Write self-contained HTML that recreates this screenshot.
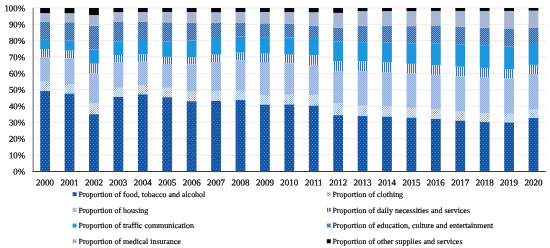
<!DOCTYPE html>
<html><head><meta charset="utf-8"><title>Chart</title>
<style>html,body{margin:0;padding:0;background:#fff;}svg{display:block;}</style>
</head><body>
<svg width="550" height="248" viewBox="0 0 550 248">
<defs>
<pattern id="pFood" width="3" height="4" patternUnits="userSpaceOnUse">
<rect width="3" height="4" fill="#1253A2"/>
<rect x="0" y="0" width="1" height="1" fill="#4A82C6"/>
<rect x="1.5" y="2" width="1" height="1" fill="#4A82C6"/>
</pattern>
<pattern id="pCloth" width="2" height="2" patternUnits="userSpaceOnUse">
<rect width="2" height="2" fill="#DCE8F6"/>
<rect x="0" y="1" width="1" height="1" fill="#84A9DD"/>
<rect x="1" y="0" width="1" height="1" fill="#84A9DD"/>
</pattern>
<pattern id="pHouse" width="2" height="2" patternUnits="userSpaceOnUse">
<rect width="2" height="2" fill="#B3C7E6"/>
<rect x="0" y="0" width="1" height="1" fill="#93AFD9"/>
<rect x="1" y="1" width="1" height="1" fill="#93AFD9"/>
</pattern>
<pattern id="pDaily" width="2" height="2" patternUnits="userSpaceOnUse">
<rect width="2" height="2" fill="#FFFFFF"/>
<rect x="0" y="0" width="1" height="2" fill="#1F5FAF"/>
</pattern>
<pattern id="pEdu" width="2" height="2" patternUnits="userSpaceOnUse">
<rect width="2" height="2" fill="#2B67B2"/>
<rect x="0" y="0" width="1" height="1" fill="#6C9BD4"/>
<rect x="1" y="1" width="1" height="1" fill="#6C9BD4"/>
</pattern>
</defs>
<rect width="550" height="248" fill="#FFFFFF"/>
<line x1="32.9" y1="154.97" x2="545.72" y2="154.97" stroke="#E6E6E6" stroke-width="0.75"/>
<line x1="32.9" y1="138.64" x2="545.72" y2="138.64" stroke="#E6E6E6" stroke-width="0.75"/>
<line x1="32.9" y1="122.31" x2="545.72" y2="122.31" stroke="#E6E6E6" stroke-width="0.75"/>
<line x1="32.9" y1="105.98" x2="545.72" y2="105.98" stroke="#E6E6E6" stroke-width="0.75"/>
<line x1="32.9" y1="89.65" x2="545.72" y2="89.65" stroke="#E6E6E6" stroke-width="0.75"/>
<line x1="32.9" y1="73.32" x2="545.72" y2="73.32" stroke="#E6E6E6" stroke-width="0.75"/>
<line x1="32.9" y1="56.99" x2="545.72" y2="56.99" stroke="#E6E6E6" stroke-width="0.75"/>
<line x1="32.9" y1="40.66" x2="545.72" y2="40.66" stroke="#E6E6E6" stroke-width="0.75"/>
<line x1="32.9" y1="24.33" x2="545.72" y2="24.33" stroke="#E6E6E6" stroke-width="0.75"/>
<line x1="32.9" y1="8.00" x2="545.72" y2="8.00" stroke="#E6E6E6" stroke-width="0.75"/>
<rect x="40.21" y="91.04" width="9.8" height="80.26" fill="url(#pFood)"/>
<rect x="40.21" y="81.72" width="9.8" height="9.32" fill="#FFFFFF"/>
<rect x="40.21" y="57.20" width="9.8" height="24.52" fill="url(#pHouse)"/>
<rect x="40.21" y="49.03" width="9.8" height="8.17" fill="#EEF3FA"/>
<rect x="41.10" y="49.03" width="0.95" height="8.17" fill="#2562B0"/>
<rect x="43.10" y="49.03" width="0.95" height="8.17" fill="#2562B0"/>
<rect x="45.10" y="49.03" width="0.95" height="8.17" fill="#2562B0"/>
<rect x="47.10" y="49.03" width="0.95" height="8.17" fill="#2562B0"/>
<rect x="49.10" y="49.03" width="0.95" height="8.17" fill="#2562B0"/>
<rect x="40.21" y="39.88" width="9.8" height="9.15" fill="#1E96DC"/>
<rect x="40.21" y="21.57" width="9.8" height="18.31" fill="url(#pEdu)"/>
<rect x="40.21" y="13.07" width="9.8" height="8.50" fill="#A7B6D2"/>
<rect x="40.21" y="8.00" width="9.8" height="5.07" fill="#000000"/>
<rect x="64.63" y="93.33" width="9.8" height="77.97" fill="url(#pFood)"/>
<rect x="64.63" y="84.01" width="9.8" height="9.32" fill="#FFFFFF"/>
<rect x="64.63" y="58.18" width="9.8" height="25.83" fill="url(#pHouse)"/>
<rect x="64.63" y="50.66" width="9.8" height="7.52" fill="#EEF3FA"/>
<rect x="65.10" y="50.66" width="0.95" height="7.52" fill="#2562B0"/>
<rect x="67.10" y="50.66" width="0.95" height="7.52" fill="#2562B0"/>
<rect x="69.10" y="50.66" width="0.95" height="7.52" fill="#2562B0"/>
<rect x="71.10" y="50.66" width="0.95" height="7.52" fill="#2562B0"/>
<rect x="73.10" y="50.66" width="0.95" height="7.52" fill="#2562B0"/>
<rect x="64.63" y="40.37" width="9.8" height="10.30" fill="#1E96DC"/>
<rect x="64.63" y="22.22" width="9.8" height="18.14" fill="url(#pEdu)"/>
<rect x="64.63" y="13.23" width="9.8" height="8.99" fill="#A7B6D2"/>
<rect x="64.63" y="8.00" width="9.8" height="5.23" fill="#000000"/>
<rect x="89.05" y="114.15" width="9.8" height="57.16" fill="url(#pFood)"/>
<rect x="89.05" y="103.04" width="9.8" height="11.10" fill="#FFFFFF"/>
<rect x="89.05" y="73.32" width="9.8" height="29.72" fill="url(#pHouse)"/>
<rect x="89.05" y="63.69" width="9.8" height="9.63" fill="#EEF3FA"/>
<rect x="89.10" y="63.69" width="0.95" height="9.63" fill="#2562B0"/>
<rect x="91.10" y="63.69" width="0.95" height="9.63" fill="#2562B0"/>
<rect x="93.10" y="63.69" width="0.95" height="9.63" fill="#2562B0"/>
<rect x="95.10" y="63.69" width="0.95" height="9.63" fill="#2562B0"/>
<rect x="97.10" y="63.69" width="0.95" height="9.63" fill="#2562B0"/>
<rect x="89.05" y="49.48" width="9.8" height="14.21" fill="#1E96DC"/>
<rect x="89.05" y="25.64" width="9.8" height="23.84" fill="url(#pEdu)"/>
<rect x="89.05" y="15.02" width="9.8" height="10.61" fill="#A7B6D2"/>
<rect x="89.05" y="8.00" width="9.8" height="7.02" fill="#000000"/>
<rect x="113.47" y="96.98" width="9.8" height="74.32" fill="url(#pFood)"/>
<rect x="113.47" y="87.69" width="9.8" height="9.29" fill="#FFFFFF"/>
<rect x="113.47" y="62.60" width="9.8" height="25.10" fill="url(#pHouse)"/>
<rect x="113.47" y="54.94" width="9.8" height="7.66" fill="#EEF3FA"/>
<rect x="114.10" y="54.94" width="0.95" height="7.66" fill="#2562B0"/>
<rect x="116.10" y="54.94" width="0.95" height="7.66" fill="#2562B0"/>
<rect x="118.10" y="54.94" width="0.95" height="7.66" fill="#2562B0"/>
<rect x="120.10" y="54.94" width="0.95" height="7.66" fill="#2562B0"/>
<rect x="122.10" y="54.94" width="0.95" height="7.66" fill="#2562B0"/>
<rect x="113.47" y="41.25" width="9.8" height="13.69" fill="#1E96DC"/>
<rect x="113.47" y="21.53" width="9.8" height="19.72" fill="url(#pEdu)"/>
<rect x="113.47" y="12.07" width="9.8" height="9.45" fill="#A7B6D2"/>
<rect x="113.47" y="8.00" width="9.8" height="4.07" fill="#000000"/>
<rect x="137.89" y="94.22" width="9.8" height="77.08" fill="url(#pFood)"/>
<rect x="137.89" y="85.24" width="9.8" height="8.98" fill="#FFFFFF"/>
<rect x="137.89" y="61.56" width="9.8" height="23.68" fill="url(#pHouse)"/>
<rect x="137.89" y="54.38" width="9.8" height="7.19" fill="#EEF3FA"/>
<rect x="138.10" y="54.38" width="0.95" height="7.19" fill="#2562B0"/>
<rect x="140.10" y="54.38" width="0.95" height="7.19" fill="#2562B0"/>
<rect x="142.10" y="54.38" width="0.95" height="7.19" fill="#2562B0"/>
<rect x="144.10" y="54.38" width="0.95" height="7.19" fill="#2562B0"/>
<rect x="146.10" y="54.38" width="0.95" height="7.19" fill="#2562B0"/>
<rect x="137.89" y="40.01" width="9.8" height="14.37" fill="#1E96DC"/>
<rect x="137.89" y="21.55" width="9.8" height="18.45" fill="url(#pEdu)"/>
<rect x="137.89" y="12.08" width="9.8" height="9.47" fill="#A7B6D2"/>
<rect x="137.89" y="8.00" width="9.8" height="4.08" fill="#000000"/>
<rect x="162.31" y="97.15" width="9.8" height="74.15" fill="url(#pFood)"/>
<rect x="162.31" y="87.69" width="9.8" height="9.45" fill="#FFFFFF"/>
<rect x="162.31" y="64.06" width="9.8" height="23.63" fill="url(#pHouse)"/>
<rect x="162.31" y="56.89" width="9.8" height="7.17" fill="#EEF3FA"/>
<rect x="163.10" y="56.89" width="0.95" height="7.17" fill="#2562B0"/>
<rect x="165.10" y="56.89" width="0.95" height="7.17" fill="#2562B0"/>
<rect x="167.10" y="56.89" width="0.95" height="7.17" fill="#2562B0"/>
<rect x="169.10" y="56.89" width="0.95" height="7.17" fill="#2562B0"/>
<rect x="171.10" y="56.89" width="0.95" height="7.17" fill="#2562B0"/>
<rect x="162.31" y="41.25" width="9.8" height="15.65" fill="#1E96DC"/>
<rect x="162.31" y="22.34" width="9.8" height="18.90" fill="url(#pEdu)"/>
<rect x="162.31" y="11.91" width="9.8" height="10.43" fill="#A7B6D2"/>
<rect x="162.31" y="8.00" width="9.8" height="3.91" fill="#000000"/>
<rect x="186.73" y="101.15" width="9.8" height="70.15" fill="url(#pFood)"/>
<rect x="186.73" y="91.53" width="9.8" height="9.63" fill="#FFFFFF"/>
<rect x="186.73" y="64.45" width="9.8" height="27.08" fill="url(#pHouse)"/>
<rect x="186.73" y="57.10" width="9.8" height="7.34" fill="#EEF3FA"/>
<rect x="187.10" y="57.10" width="0.95" height="7.34" fill="#2562B0"/>
<rect x="189.10" y="57.10" width="0.95" height="7.34" fill="#2562B0"/>
<rect x="191.10" y="57.10" width="0.95" height="7.34" fill="#2562B0"/>
<rect x="193.10" y="57.10" width="0.95" height="7.34" fill="#2562B0"/>
<rect x="195.10" y="57.10" width="0.95" height="7.34" fill="#2562B0"/>
<rect x="186.73" y="40.46" width="9.8" height="16.64" fill="#1E96DC"/>
<rect x="186.73" y="22.85" width="9.8" height="17.62" fill="url(#pEdu)"/>
<rect x="186.73" y="12.08" width="9.8" height="10.77" fill="#A7B6D2"/>
<rect x="186.73" y="8.00" width="9.8" height="4.08" fill="#000000"/>
<rect x="211.15" y="100.99" width="9.8" height="70.31" fill="url(#pFood)"/>
<rect x="211.15" y="91.20" width="9.8" height="9.79" fill="#FFFFFF"/>
<rect x="211.15" y="62.16" width="9.8" height="29.04" fill="url(#pHouse)"/>
<rect x="211.15" y="54.66" width="9.8" height="7.50" fill="#EEF3FA"/>
<rect x="211.10" y="54.66" width="0.95" height="7.50" fill="#2562B0"/>
<rect x="213.10" y="54.66" width="0.95" height="7.50" fill="#2562B0"/>
<rect x="215.10" y="54.66" width="0.95" height="7.50" fill="#2562B0"/>
<rect x="217.10" y="54.66" width="0.95" height="7.50" fill="#2562B0"/>
<rect x="219.10" y="54.66" width="0.95" height="7.50" fill="#2562B0"/>
<rect x="211.15" y="38.02" width="9.8" height="16.64" fill="#1E96DC"/>
<rect x="211.15" y="22.52" width="9.8" height="15.50" fill="url(#pEdu)"/>
<rect x="211.15" y="12.24" width="9.8" height="10.28" fill="#A7B6D2"/>
<rect x="211.15" y="8.00" width="9.8" height="4.24" fill="#000000"/>
<rect x="235.57" y="100.01" width="9.8" height="71.29" fill="url(#pFood)"/>
<rect x="235.57" y="90.55" width="9.8" height="9.46" fill="#FFFFFF"/>
<rect x="235.57" y="60.37" width="9.8" height="30.18" fill="url(#pHouse)"/>
<rect x="235.57" y="52.54" width="9.8" height="7.83" fill="#EEF3FA"/>
<rect x="236.10" y="52.54" width="0.95" height="7.83" fill="#2562B0"/>
<rect x="238.10" y="52.54" width="0.95" height="7.83" fill="#2562B0"/>
<rect x="240.10" y="52.54" width="0.95" height="7.83" fill="#2562B0"/>
<rect x="242.10" y="52.54" width="0.95" height="7.83" fill="#2562B0"/>
<rect x="244.10" y="52.54" width="0.95" height="7.83" fill="#2562B0"/>
<rect x="235.57" y="36.55" width="9.8" height="15.99" fill="#1E96DC"/>
<rect x="235.57" y="22.52" width="9.8" height="14.03" fill="url(#pEdu)"/>
<rect x="235.57" y="11.92" width="9.8" height="10.60" fill="#A7B6D2"/>
<rect x="235.57" y="8.00" width="9.8" height="3.92" fill="#000000"/>
<rect x="259.99" y="104.41" width="9.8" height="66.89" fill="url(#pFood)"/>
<rect x="259.99" y="94.95" width="9.8" height="9.46" fill="#FFFFFF"/>
<rect x="259.99" y="62.00" width="9.8" height="32.95" fill="url(#pHouse)"/>
<rect x="259.99" y="53.68" width="9.8" height="8.32" fill="#EEF3FA"/>
<rect x="260.10" y="53.68" width="0.95" height="8.32" fill="#2562B0"/>
<rect x="262.10" y="53.68" width="0.95" height="8.32" fill="#2562B0"/>
<rect x="264.10" y="53.68" width="0.95" height="8.32" fill="#2562B0"/>
<rect x="266.10" y="53.68" width="0.95" height="8.32" fill="#2562B0"/>
<rect x="268.10" y="53.68" width="0.95" height="8.32" fill="#2562B0"/>
<rect x="259.99" y="37.20" width="9.8" height="16.48" fill="#1E96DC"/>
<rect x="259.99" y="23.33" width="9.8" height="13.87" fill="url(#pEdu)"/>
<rect x="259.99" y="11.92" width="9.8" height="11.42" fill="#A7B6D2"/>
<rect x="259.99" y="8.00" width="9.8" height="3.92" fill="#000000"/>
<rect x="284.41" y="104.25" width="9.8" height="67.05" fill="url(#pFood)"/>
<rect x="284.41" y="94.46" width="9.8" height="9.79" fill="#FFFFFF"/>
<rect x="284.41" y="63.30" width="9.8" height="31.16" fill="url(#pHouse)"/>
<rect x="284.41" y="54.66" width="9.8" height="8.65" fill="#EEF3FA"/>
<rect x="285.10" y="54.66" width="0.95" height="8.65" fill="#2562B0"/>
<rect x="287.10" y="54.66" width="0.95" height="8.65" fill="#2562B0"/>
<rect x="289.10" y="54.66" width="0.95" height="8.65" fill="#2562B0"/>
<rect x="291.10" y="54.66" width="0.95" height="8.65" fill="#2562B0"/>
<rect x="293.10" y="54.66" width="0.95" height="8.65" fill="#2562B0"/>
<rect x="284.41" y="37.53" width="9.8" height="17.13" fill="#1E96DC"/>
<rect x="284.41" y="23.82" width="9.8" height="13.70" fill="url(#pEdu)"/>
<rect x="284.41" y="12.08" width="9.8" height="11.75" fill="#A7B6D2"/>
<rect x="284.41" y="8.00" width="9.8" height="4.08" fill="#000000"/>
<rect x="308.83" y="105.39" width="9.8" height="65.91" fill="url(#pFood)"/>
<rect x="308.83" y="94.79" width="9.8" height="10.60" fill="#FFFFFF"/>
<rect x="308.83" y="64.77" width="9.8" height="30.02" fill="url(#pHouse)"/>
<rect x="308.83" y="55.15" width="9.8" height="9.63" fill="#EEF3FA"/>
<rect x="309.10" y="55.15" width="0.95" height="9.63" fill="#2562B0"/>
<rect x="311.10" y="55.15" width="0.95" height="9.63" fill="#2562B0"/>
<rect x="313.10" y="55.15" width="0.95" height="9.63" fill="#2562B0"/>
<rect x="315.10" y="55.15" width="0.95" height="9.63" fill="#2562B0"/>
<rect x="317.10" y="55.15" width="0.95" height="9.63" fill="#2562B0"/>
<rect x="308.83" y="38.02" width="9.8" height="17.13" fill="#1E96DC"/>
<rect x="308.83" y="25.62" width="9.8" height="12.40" fill="url(#pEdu)"/>
<rect x="308.83" y="12.24" width="9.8" height="13.38" fill="#A7B6D2"/>
<rect x="308.83" y="8.00" width="9.8" height="4.24" fill="#000000"/>
<rect x="333.25" y="115.13" width="9.8" height="56.17" fill="url(#pFood)"/>
<rect x="333.25" y="103.24" width="9.8" height="11.89" fill="#FFFFFF"/>
<rect x="333.25" y="71.66" width="9.8" height="31.59" fill="url(#pHouse)"/>
<rect x="333.25" y="61.08" width="9.8" height="10.58" fill="#EEF3FA"/>
<rect x="334.10" y="61.08" width="0.95" height="10.58" fill="#2562B0"/>
<rect x="336.10" y="61.08" width="0.95" height="10.58" fill="#2562B0"/>
<rect x="338.10" y="61.08" width="0.95" height="10.58" fill="#2562B0"/>
<rect x="340.10" y="61.08" width="0.95" height="10.58" fill="#2562B0"/>
<rect x="342.10" y="61.08" width="0.95" height="10.58" fill="#2562B0"/>
<rect x="333.25" y="41.70" width="9.8" height="19.37" fill="#1E96DC"/>
<rect x="333.25" y="27.86" width="9.8" height="13.84" fill="url(#pEdu)"/>
<rect x="333.25" y="12.88" width="9.8" height="14.98" fill="#A7B6D2"/>
<rect x="333.25" y="8.00" width="9.8" height="4.88" fill="#000000"/>
<rect x="357.67" y="115.61" width="9.8" height="55.69" fill="url(#pFood)"/>
<rect x="357.67" y="105.65" width="9.8" height="9.96" fill="#FFFFFF"/>
<rect x="357.67" y="71.20" width="9.8" height="34.46" fill="url(#pHouse)"/>
<rect x="357.67" y="61.24" width="9.8" height="9.96" fill="#EEF3FA"/>
<rect x="358.10" y="61.24" width="0.95" height="9.96" fill="#2562B0"/>
<rect x="360.10" y="61.24" width="0.95" height="9.96" fill="#2562B0"/>
<rect x="362.10" y="61.24" width="0.95" height="9.96" fill="#2562B0"/>
<rect x="364.10" y="61.24" width="0.95" height="9.96" fill="#2562B0"/>
<rect x="366.10" y="61.24" width="0.95" height="9.96" fill="#2562B0"/>
<rect x="357.67" y="42.13" width="9.8" height="19.11" fill="#1E96DC"/>
<rect x="357.67" y="25.64" width="9.8" height="16.49" fill="url(#pEdu)"/>
<rect x="357.67" y="11.10" width="9.8" height="14.53" fill="#A7B6D2"/>
<rect x="357.67" y="8.00" width="9.8" height="3.10" fill="#000000"/>
<rect x="382.09" y="116.43" width="9.8" height="54.87" fill="url(#pFood)"/>
<rect x="382.09" y="106.47" width="9.8" height="9.96" fill="#FFFFFF"/>
<rect x="382.09" y="72.18" width="9.8" height="34.29" fill="url(#pHouse)"/>
<rect x="382.09" y="62.38" width="9.8" height="9.80" fill="#EEF3FA"/>
<rect x="382.10" y="62.38" width="0.95" height="9.80" fill="#2562B0"/>
<rect x="384.10" y="62.38" width="0.95" height="9.80" fill="#2562B0"/>
<rect x="386.10" y="62.38" width="0.95" height="9.80" fill="#2562B0"/>
<rect x="388.10" y="62.38" width="0.95" height="9.80" fill="#2562B0"/>
<rect x="390.10" y="62.38" width="0.95" height="9.80" fill="#2562B0"/>
<rect x="382.09" y="42.62" width="9.8" height="19.76" fill="#1E96DC"/>
<rect x="382.09" y="25.80" width="9.8" height="16.82" fill="url(#pEdu)"/>
<rect x="382.09" y="11.10" width="9.8" height="14.70" fill="#A7B6D2"/>
<rect x="382.09" y="8.00" width="9.8" height="3.10" fill="#000000"/>
<rect x="406.51" y="117.41" width="9.8" height="53.89" fill="url(#pFood)"/>
<rect x="406.51" y="107.61" width="9.8" height="9.80" fill="#FFFFFF"/>
<rect x="406.51" y="73.48" width="9.8" height="34.13" fill="url(#pHouse)"/>
<rect x="406.51" y="63.85" width="9.8" height="9.63" fill="#EEF3FA"/>
<rect x="407.10" y="63.85" width="0.95" height="9.63" fill="#2562B0"/>
<rect x="409.10" y="63.85" width="0.95" height="9.63" fill="#2562B0"/>
<rect x="411.10" y="63.85" width="0.95" height="9.63" fill="#2562B0"/>
<rect x="413.10" y="63.85" width="0.95" height="9.63" fill="#2562B0"/>
<rect x="415.10" y="63.85" width="0.95" height="9.63" fill="#2562B0"/>
<rect x="406.51" y="43.27" width="9.8" height="20.58" fill="#1E96DC"/>
<rect x="406.51" y="26.13" width="9.8" height="17.15" fill="url(#pEdu)"/>
<rect x="406.51" y="11.10" width="9.8" height="15.02" fill="#A7B6D2"/>
<rect x="406.51" y="8.00" width="9.8" height="3.10" fill="#000000"/>
<rect x="430.93" y="118.72" width="9.8" height="52.58" fill="url(#pFood)"/>
<rect x="430.93" y="109.41" width="9.8" height="9.31" fill="#FFFFFF"/>
<rect x="430.93" y="74.79" width="9.8" height="34.62" fill="url(#pHouse)"/>
<rect x="430.93" y="65.15" width="9.8" height="9.63" fill="#EEF3FA"/>
<rect x="431.10" y="65.15" width="0.95" height="9.63" fill="#2562B0"/>
<rect x="433.10" y="65.15" width="0.95" height="9.63" fill="#2562B0"/>
<rect x="435.10" y="65.15" width="0.95" height="9.63" fill="#2562B0"/>
<rect x="437.10" y="65.15" width="0.95" height="9.63" fill="#2562B0"/>
<rect x="439.10" y="65.15" width="0.95" height="9.63" fill="#2562B0"/>
<rect x="430.93" y="43.27" width="9.8" height="21.88" fill="#1E96DC"/>
<rect x="430.93" y="25.96" width="9.8" height="17.31" fill="url(#pEdu)"/>
<rect x="430.93" y="10.94" width="9.8" height="15.02" fill="#A7B6D2"/>
<rect x="430.93" y="8.00" width="9.8" height="2.94" fill="#000000"/>
<rect x="455.35" y="120.40" width="9.8" height="50.90" fill="url(#pFood)"/>
<rect x="455.35" y="111.27" width="9.8" height="9.14" fill="#FFFFFF"/>
<rect x="455.35" y="76.19" width="9.8" height="35.07" fill="url(#pHouse)"/>
<rect x="455.35" y="66.73" width="9.8" height="9.46" fill="#EEF3FA"/>
<rect x="456.10" y="66.73" width="0.95" height="9.46" fill="#2562B0"/>
<rect x="458.10" y="66.73" width="0.95" height="9.46" fill="#2562B0"/>
<rect x="460.10" y="66.73" width="0.95" height="9.46" fill="#2562B0"/>
<rect x="462.10" y="66.73" width="0.95" height="9.46" fill="#2562B0"/>
<rect x="464.10" y="66.73" width="0.95" height="9.46" fill="#2562B0"/>
<rect x="455.35" y="44.22" width="9.8" height="22.51" fill="#1E96DC"/>
<rect x="455.35" y="26.76" width="9.8" height="17.46" fill="url(#pEdu)"/>
<rect x="455.35" y="10.94" width="9.8" height="15.82" fill="#A7B6D2"/>
<rect x="455.35" y="8.00" width="9.8" height="2.94" fill="#000000"/>
<rect x="479.77" y="122.05" width="9.8" height="49.25" fill="url(#pFood)"/>
<rect x="479.77" y="113.38" width="9.8" height="8.67" fill="#FFFFFF"/>
<rect x="479.77" y="77.54" width="9.8" height="35.83" fill="url(#pHouse)"/>
<rect x="479.77" y="67.89" width="9.8" height="9.65" fill="#EEF3FA"/>
<rect x="480.10" y="67.89" width="0.95" height="9.65" fill="#2562B0"/>
<rect x="482.10" y="67.89" width="0.95" height="9.65" fill="#2562B0"/>
<rect x="484.10" y="67.89" width="0.95" height="9.65" fill="#2562B0"/>
<rect x="486.10" y="67.89" width="0.95" height="9.65" fill="#2562B0"/>
<rect x="488.10" y="67.89" width="0.95" height="9.65" fill="#2562B0"/>
<rect x="479.77" y="45.14" width="9.8" height="22.74" fill="#1E96DC"/>
<rect x="479.77" y="27.64" width="9.8" height="17.51" fill="url(#pEdu)"/>
<rect x="479.77" y="10.95" width="9.8" height="16.69" fill="#A7B6D2"/>
<rect x="479.77" y="8.00" width="9.8" height="2.95" fill="#000000"/>
<rect x="504.19" y="122.26" width="9.8" height="49.04" fill="url(#pFood)"/>
<rect x="504.19" y="113.60" width="9.8" height="8.66" fill="#FFFFFF"/>
<rect x="504.19" y="78.45" width="9.8" height="35.14" fill="url(#pHouse)"/>
<rect x="504.19" y="69.14" width="9.8" height="9.32" fill="#EEF3FA"/>
<rect x="504.10" y="69.14" width="0.95" height="9.32" fill="#2562B0"/>
<rect x="506.10" y="69.14" width="0.95" height="9.32" fill="#2562B0"/>
<rect x="508.10" y="69.14" width="0.95" height="9.32" fill="#2562B0"/>
<rect x="510.10" y="69.14" width="0.95" height="9.32" fill="#2562B0"/>
<rect x="512.10" y="69.14" width="0.95" height="9.32" fill="#2562B0"/>
<rect x="504.19" y="46.58" width="9.8" height="22.56" fill="#1E96DC"/>
<rect x="504.19" y="28.43" width="9.8" height="18.14" fill="url(#pEdu)"/>
<rect x="504.19" y="10.94" width="9.8" height="17.49" fill="#A7B6D2"/>
<rect x="504.19" y="8.00" width="9.8" height="2.94" fill="#000000"/>
<rect x="528.61" y="117.85" width="9.8" height="53.45" fill="url(#pFood)"/>
<rect x="528.61" y="109.35" width="9.8" height="8.50" fill="#FFFFFF"/>
<rect x="528.61" y="74.04" width="9.8" height="35.31" fill="url(#pHouse)"/>
<rect x="528.61" y="64.89" width="9.8" height="9.15" fill="#EEF3FA"/>
<rect x="529.10" y="64.89" width="0.95" height="9.15" fill="#2562B0"/>
<rect x="531.10" y="64.89" width="0.95" height="9.15" fill="#2562B0"/>
<rect x="533.10" y="64.89" width="0.95" height="9.15" fill="#2562B0"/>
<rect x="535.10" y="64.89" width="0.95" height="9.15" fill="#2562B0"/>
<rect x="537.10" y="64.89" width="0.95" height="9.15" fill="#2562B0"/>
<rect x="528.61" y="42.98" width="9.8" height="21.90" fill="#1E96DC"/>
<rect x="528.61" y="27.45" width="9.8" height="15.53" fill="url(#pEdu)"/>
<rect x="528.61" y="10.62" width="9.8" height="16.84" fill="#A7B6D2"/>
<rect x="528.61" y="8.00" width="9.8" height="2.62" fill="#000000"/>
<clipPath id="cc"><rect x="40.21" y="81.72" width="9.8" height="9.32"/><rect x="64.63" y="84.01" width="9.8" height="9.32"/><rect x="89.05" y="103.04" width="9.8" height="11.10"/><rect x="113.47" y="87.69" width="9.8" height="9.29"/><rect x="137.89" y="85.24" width="9.8" height="8.98"/><rect x="162.31" y="87.69" width="9.8" height="9.45"/><rect x="186.73" y="91.53" width="9.8" height="9.63"/><rect x="211.15" y="91.20" width="9.8" height="9.79"/><rect x="235.57" y="90.55" width="9.8" height="9.46"/><rect x="259.99" y="94.95" width="9.8" height="9.46"/><rect x="284.41" y="94.46" width="9.8" height="9.79"/><rect x="308.83" y="94.79" width="9.8" height="10.60"/><rect x="333.25" y="103.24" width="9.8" height="11.89"/><rect x="357.67" y="105.65" width="9.8" height="9.96"/><rect x="382.09" y="106.47" width="9.8" height="9.96"/><rect x="406.51" y="107.61" width="9.8" height="9.80"/><rect x="430.93" y="109.41" width="9.8" height="9.31"/><rect x="455.35" y="111.27" width="9.8" height="9.14"/><rect x="479.77" y="113.38" width="9.8" height="8.67"/><rect x="504.19" y="113.60" width="9.8" height="8.66"/><rect x="528.61" y="109.35" width="9.8" height="8.50"/></clipPath>
<path clip-path="url(#cc)" d="M-9.64 123.3l42.5 -42.5M-7.49 123.3l42.5 -42.5M-5.34 123.3l42.5 -42.5M-3.19 123.3l42.5 -42.5M-1.04 123.3l42.5 -42.5M1.11 123.3l42.5 -42.5M3.26 123.3l42.5 -42.5M5.41 123.3l42.5 -42.5M7.56 123.3l42.5 -42.5M9.71 123.3l42.5 -42.5M11.86 123.3l42.5 -42.5M14.01 123.3l42.5 -42.5M16.16 123.3l42.5 -42.5M18.31 123.3l42.5 -42.5M20.46 123.3l42.5 -42.5M22.61 123.3l42.5 -42.5M24.76 123.3l42.5 -42.5M26.91 123.3l42.5 -42.5M29.06 123.3l42.5 -42.5M31.21 123.3l42.5 -42.5M33.36 123.3l42.5 -42.5M35.51 123.3l42.5 -42.5M37.66 123.3l42.5 -42.5M39.81 123.3l42.5 -42.5M41.96 123.3l42.5 -42.5M44.11 123.3l42.5 -42.5M46.26 123.3l42.5 -42.5M48.41 123.3l42.5 -42.5M50.56 123.3l42.5 -42.5M52.71 123.3l42.5 -42.5M54.86 123.3l42.5 -42.5M57.01 123.3l42.5 -42.5M59.16 123.3l42.5 -42.5M61.31 123.3l42.5 -42.5M63.46 123.3l42.5 -42.5M65.61 123.3l42.5 -42.5M67.76 123.3l42.5 -42.5M69.91 123.3l42.5 -42.5M72.06 123.3l42.5 -42.5M74.21 123.3l42.5 -42.5M76.36 123.3l42.5 -42.5M78.51 123.3l42.5 -42.5M80.66 123.3l42.5 -42.5M82.81 123.3l42.5 -42.5M84.96 123.3l42.5 -42.5M87.11 123.3l42.5 -42.5M89.26 123.3l42.5 -42.5M91.41 123.3l42.5 -42.5M93.56 123.3l42.5 -42.5M95.71 123.3l42.5 -42.5M97.86 123.3l42.5 -42.5M100.01 123.3l42.5 -42.5M102.16 123.3l42.5 -42.5M104.31 123.3l42.5 -42.5M106.46 123.3l42.5 -42.5M108.61 123.3l42.5 -42.5M110.76 123.3l42.5 -42.5M112.91 123.3l42.5 -42.5M115.06 123.3l42.5 -42.5M117.21 123.3l42.5 -42.5M119.36 123.3l42.5 -42.5M121.51 123.3l42.5 -42.5M123.66 123.3l42.5 -42.5M125.81 123.3l42.5 -42.5M127.96 123.3l42.5 -42.5M130.11 123.3l42.5 -42.5M132.26 123.3l42.5 -42.5M134.41 123.3l42.5 -42.5M136.56 123.3l42.5 -42.5M138.71 123.3l42.5 -42.5M140.86 123.3l42.5 -42.5M143.01 123.3l42.5 -42.5M145.16 123.3l42.5 -42.5M147.31 123.3l42.5 -42.5M149.46 123.3l42.5 -42.5M151.61 123.3l42.5 -42.5M153.76 123.3l42.5 -42.5M155.91 123.3l42.5 -42.5M158.06 123.3l42.5 -42.5M160.21 123.3l42.5 -42.5M162.36 123.3l42.5 -42.5M164.51 123.3l42.5 -42.5M166.66 123.3l42.5 -42.5M168.81 123.3l42.5 -42.5M170.96 123.3l42.5 -42.5M173.11 123.3l42.5 -42.5M175.26 123.3l42.5 -42.5M177.41 123.3l42.5 -42.5M179.56 123.3l42.5 -42.5M181.71 123.3l42.5 -42.5M183.86 123.3l42.5 -42.5M186.01 123.3l42.5 -42.5M188.16 123.3l42.5 -42.5M190.31 123.3l42.5 -42.5M192.46 123.3l42.5 -42.5M194.61 123.3l42.5 -42.5M196.76 123.3l42.5 -42.5M198.91 123.3l42.5 -42.5M201.06 123.3l42.5 -42.5M203.21 123.3l42.5 -42.5M205.36 123.3l42.5 -42.5M207.51 123.3l42.5 -42.5M209.66 123.3l42.5 -42.5M211.81 123.3l42.5 -42.5M213.96 123.3l42.5 -42.5M216.11 123.3l42.5 -42.5M218.26 123.3l42.5 -42.5M220.41 123.3l42.5 -42.5M222.56 123.3l42.5 -42.5M224.71 123.3l42.5 -42.5M226.86 123.3l42.5 -42.5M229.01 123.3l42.5 -42.5M231.16 123.3l42.5 -42.5M233.31 123.3l42.5 -42.5M235.46 123.3l42.5 -42.5M237.61 123.3l42.5 -42.5M239.76 123.3l42.5 -42.5M241.91 123.3l42.5 -42.5M244.06 123.3l42.5 -42.5M246.21 123.3l42.5 -42.5M248.36 123.3l42.5 -42.5M250.51 123.3l42.5 -42.5M252.66 123.3l42.5 -42.5M254.81 123.3l42.5 -42.5M256.96 123.3l42.5 -42.5M259.11 123.3l42.5 -42.5M261.26 123.3l42.5 -42.5M263.41 123.3l42.5 -42.5M265.56 123.3l42.5 -42.5M267.71 123.3l42.5 -42.5M269.86 123.3l42.5 -42.5M272.01 123.3l42.5 -42.5M274.16 123.3l42.5 -42.5M276.31 123.3l42.5 -42.5M278.46 123.3l42.5 -42.5M280.61 123.3l42.5 -42.5M282.76 123.3l42.5 -42.5M284.91 123.3l42.5 -42.5M287.06 123.3l42.5 -42.5M289.21 123.3l42.5 -42.5M291.36 123.3l42.5 -42.5M293.51 123.3l42.5 -42.5M295.66 123.3l42.5 -42.5M297.81 123.3l42.5 -42.5M299.96 123.3l42.5 -42.5M302.11 123.3l42.5 -42.5M304.26 123.3l42.5 -42.5M306.41 123.3l42.5 -42.5M308.56 123.3l42.5 -42.5M310.71 123.3l42.5 -42.5M312.86 123.3l42.5 -42.5M315.01 123.3l42.5 -42.5M317.16 123.3l42.5 -42.5M319.31 123.3l42.5 -42.5M321.46 123.3l42.5 -42.5M323.61 123.3l42.5 -42.5M325.76 123.3l42.5 -42.5M327.91 123.3l42.5 -42.5M330.06 123.3l42.5 -42.5M332.21 123.3l42.5 -42.5M334.36 123.3l42.5 -42.5M336.51 123.3l42.5 -42.5M338.66 123.3l42.5 -42.5M340.81 123.3l42.5 -42.5M342.96 123.3l42.5 -42.5M345.11 123.3l42.5 -42.5M347.26 123.3l42.5 -42.5M349.41 123.3l42.5 -42.5M351.56 123.3l42.5 -42.5M353.71 123.3l42.5 -42.5M355.86 123.3l42.5 -42.5M358.01 123.3l42.5 -42.5M360.16 123.3l42.5 -42.5M362.31 123.3l42.5 -42.5M364.46 123.3l42.5 -42.5M366.61 123.3l42.5 -42.5M368.76 123.3l42.5 -42.5M370.91 123.3l42.5 -42.5M373.06 123.3l42.5 -42.5M375.21 123.3l42.5 -42.5M377.36 123.3l42.5 -42.5M379.51 123.3l42.5 -42.5M381.66 123.3l42.5 -42.5M383.81 123.3l42.5 -42.5M385.96 123.3l42.5 -42.5M388.11 123.3l42.5 -42.5M390.26 123.3l42.5 -42.5M392.41 123.3l42.5 -42.5M394.56 123.3l42.5 -42.5M396.71 123.3l42.5 -42.5M398.86 123.3l42.5 -42.5M401.01 123.3l42.5 -42.5M403.16 123.3l42.5 -42.5M405.31 123.3l42.5 -42.5M407.46 123.3l42.5 -42.5M409.61 123.3l42.5 -42.5M411.76 123.3l42.5 -42.5M413.91 123.3l42.5 -42.5M416.06 123.3l42.5 -42.5M418.21 123.3l42.5 -42.5M420.36 123.3l42.5 -42.5M422.51 123.3l42.5 -42.5M424.66 123.3l42.5 -42.5M426.81 123.3l42.5 -42.5M428.96 123.3l42.5 -42.5M431.11 123.3l42.5 -42.5M433.26 123.3l42.5 -42.5M435.41 123.3l42.5 -42.5M437.56 123.3l42.5 -42.5M439.71 123.3l42.5 -42.5M441.86 123.3l42.5 -42.5M444.01 123.3l42.5 -42.5M446.16 123.3l42.5 -42.5M448.31 123.3l42.5 -42.5M450.46 123.3l42.5 -42.5M452.61 123.3l42.5 -42.5M454.76 123.3l42.5 -42.5M456.91 123.3l42.5 -42.5M459.06 123.3l42.5 -42.5M461.21 123.3l42.5 -42.5M463.36 123.3l42.5 -42.5M465.51 123.3l42.5 -42.5M467.66 123.3l42.5 -42.5M469.81 123.3l42.5 -42.5M471.96 123.3l42.5 -42.5M474.11 123.3l42.5 -42.5M476.26 123.3l42.5 -42.5M478.41 123.3l42.5 -42.5M480.56 123.3l42.5 -42.5M482.71 123.3l42.5 -42.5M484.86 123.3l42.5 -42.5M487.01 123.3l42.5 -42.5M489.16 123.3l42.5 -42.5M491.31 123.3l42.5 -42.5M493.46 123.3l42.5 -42.5M495.61 123.3l42.5 -42.5M497.76 123.3l42.5 -42.5M499.91 123.3l42.5 -42.5M502.06 123.3l42.5 -42.5M504.21 123.3l42.5 -42.5M506.36 123.3l42.5 -42.5M508.51 123.3l42.5 -42.5M510.66 123.3l42.5 -42.5M512.81 123.3l42.5 -42.5M514.96 123.3l42.5 -42.5M517.11 123.3l42.5 -42.5M519.26 123.3l42.5 -42.5M521.41 123.3l42.5 -42.5M523.56 123.3l42.5 -42.5M525.71 123.3l42.5 -42.5M527.86 123.3l42.5 -42.5M530.01 123.3l42.5 -42.5M532.16 123.3l42.5 -42.5M534.31 123.3l42.5 -42.5M536.46 123.3l42.5 -42.5M538.61 123.3l42.5 -42.5M540.76 123.3l42.5 -42.5M542.91 123.3l42.5 -42.5M545.06 123.3l42.5 -42.5" stroke="#3270C2" stroke-width="0.62" fill="none"/>
<line x1="33.15" y1="7.7" x2="33.15" y2="171.9" stroke="#707070" stroke-width="1.1"/>
<line x1="32.7" y1="171.5" x2="545.72" y2="171.5" stroke="#3A3A3A" stroke-width="1.1"/>
<g text-rendering="geometricPrecision" font-family="Liberation Serif, serif" font-size="9.0" fill="#000000" stroke="#000000" stroke-width="0.22">
<text font-size="8.8" transform="rotate(0.03 25 174.50)" x="25" y="174.50" text-anchor="end">0%</text>
<text font-size="8.8" transform="rotate(0.03 25 158.17)" x="25" y="158.17" text-anchor="end">10%</text>
<text font-size="8.8" transform="rotate(0.03 25 141.84)" x="25" y="141.84" text-anchor="end">20%</text>
<text font-size="8.8" transform="rotate(0.03 25 125.51)" x="25" y="125.51" text-anchor="end">30%</text>
<text font-size="8.8" transform="rotate(0.03 25 109.18)" x="25" y="109.18" text-anchor="end">40%</text>
<text font-size="8.8" transform="rotate(0.03 25 92.85)" x="25" y="92.85" text-anchor="end">50%</text>
<text font-size="8.8" transform="rotate(0.03 25 76.52)" x="25" y="76.52" text-anchor="end">60%</text>
<text font-size="8.8" transform="rotate(0.03 25 60.19)" x="25" y="60.19" text-anchor="end">70%</text>
<text font-size="8.8" transform="rotate(0.03 25 43.86)" x="25" y="43.86" text-anchor="end">80%</text>
<text font-size="8.8" transform="rotate(0.03 25 27.53)" x="25" y="27.53" text-anchor="end">90%</text>
<text font-size="8.8" transform="rotate(0.03 25 11.20)" x="25" y="11.20" text-anchor="end">100%</text>
<text transform="rotate(0.03 45.11 185.4)" x="45.11" y="185.4" text-anchor="middle">2000</text>
<text transform="rotate(0.03 69.53 185.4)" x="69.53" y="185.4" text-anchor="middle">2001</text>
<text transform="rotate(0.03 93.95 185.4)" x="93.95" y="185.4" text-anchor="middle">2002</text>
<text transform="rotate(0.03 118.37 185.4)" x="118.37" y="185.4" text-anchor="middle">2003</text>
<text transform="rotate(0.03 142.79 185.4)" x="142.79" y="185.4" text-anchor="middle">2004</text>
<text transform="rotate(0.03 167.21 185.4)" x="167.21" y="185.4" text-anchor="middle">2005</text>
<text transform="rotate(0.03 191.63 185.4)" x="191.63" y="185.4" text-anchor="middle">2006</text>
<text transform="rotate(0.03 216.05 185.4)" x="216.05" y="185.4" text-anchor="middle">2007</text>
<text transform="rotate(0.03 240.47 185.4)" x="240.47" y="185.4" text-anchor="middle">2008</text>
<text transform="rotate(0.03 264.89 185.4)" x="264.89" y="185.4" text-anchor="middle">2009</text>
<text transform="rotate(0.03 289.31 185.4)" x="289.31" y="185.4" text-anchor="middle">2010</text>
<text transform="rotate(0.03 313.73 185.4)" x="313.73" y="185.4" text-anchor="middle">2011</text>
<text transform="rotate(0.03 338.15 185.4)" x="338.15" y="185.4" text-anchor="middle">2012</text>
<text transform="rotate(0.03 362.57 185.4)" x="362.57" y="185.4" text-anchor="middle">2013</text>
<text transform="rotate(0.03 386.99 185.4)" x="386.99" y="185.4" text-anchor="middle">2014</text>
<text transform="rotate(0.03 411.41 185.4)" x="411.41" y="185.4" text-anchor="middle">2015</text>
<text transform="rotate(0.03 435.83 185.4)" x="435.83" y="185.4" text-anchor="middle">2016</text>
<text transform="rotate(0.03 460.25 185.4)" x="460.25" y="185.4" text-anchor="middle">2017</text>
<text transform="rotate(0.03 484.67 185.4)" x="484.67" y="185.4" text-anchor="middle">2018</text>
<text transform="rotate(0.03 509.09 185.4)" x="509.09" y="185.4" text-anchor="middle">2019</text>
<text transform="rotate(0.03 533.51 185.4)" x="533.51" y="185.4" text-anchor="middle">2020</text>
</g>
<g text-rendering="geometricPrecision" font-family="Liberation Serif, serif" font-size="7.96" fill="#000000" stroke="#000000" stroke-width="0.15">
<rect x="72.6" y="192.15" width="4.0" height="4.0" fill="url(#pFood)" stroke="none"/>
<text x="78.5" y="196.80">Proportion of food, tobacco and alcohol</text>
<rect x="326.8" y="192.15" width="4.0" height="4.0" fill="url(#pCloth)" stroke="none"/>
<text x="332.4" y="196.80">Proportion of clothing</text>
<rect x="72.6" y="207.85" width="4.0" height="4.0" fill="url(#pHouse)" stroke="none"/>
<text x="78.5" y="212.50">Proportion of housing</text>
<rect x="327.0" y="207.85" width="1.3" height="4.0" fill="#2562B0" stroke="none"/><rect x="329.3" y="207.85" width="1.4" height="4.0" fill="#2562B0" stroke="none"/>
<text x="332.4" y="212.50">Proportion of daily necessities and services</text>
<rect x="72.6" y="223.55" width="4.0" height="4.0" fill="#1E96DC" stroke="none"/>
<text x="78.5" y="228.20">Proportion of traffic communication</text>
<rect x="326.8" y="223.55" width="4.0" height="4.0" fill="url(#pEdu)" stroke="none"/>
<text x="332.4" y="228.20">Proportion of education, culture and entertainment</text>
<rect x="72.6" y="239.25" width="4.0" height="4.0" fill="#A7B6D2" stroke="none"/>
<text x="78.5" y="243.90">Proportion of medical insurance</text>
<rect x="326.8" y="239.25" width="4.0" height="4.0" fill="#000000" stroke="none"/>
<text x="332.4" y="243.90">Proportion of other supplies and services</text>
</g>
</svg>
</body></html>
